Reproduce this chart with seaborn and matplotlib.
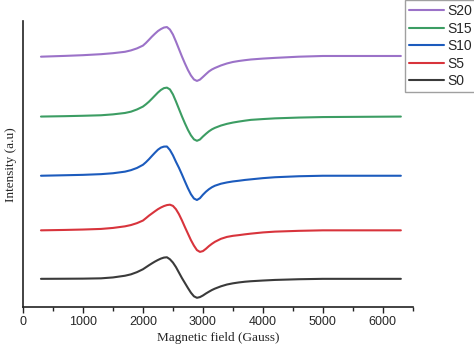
import numpy as np
import pandas as pd
import matplotlib
matplotlib.use("Agg")
import matplotlib.pyplot as plt
from matplotlib.ticker import MultipleLocator
import seaborn as sns

# magnetic field sample points (Gauss)
field = [300, 700, 1000, 1300, 1500, 1700, 1800, 1900, 2000, 2050,
         2100, 2150, 2200, 2250, 2300, 2350, 2400, 2450, 2500, 2550,
         2600, 2650, 2700, 2750, 2800, 2850, 2900, 2950, 3000, 3050,
         3100, 3150, 3200, 3300, 3400, 3500, 3600, 3700, 3800, 4000,
         4200, 4600, 5000, 6300]

# intensities (arbitrary units)
s20 = [251.3, 252.1, 252.8, 253.8, 254.8, 256.2, 257.6, 259.6, 262.4, 265.1,
       268.2, 271.4, 274.3, 277, 279, 280.5, 281, 278.5, 273.5, 266.5,
       259, 251.5, 244.5, 238, 232.5, 228.5, 227, 228.3, 231, 233.8,
       236.5, 238.5, 240, 242.5, 244.5, 246, 247, 247.8, 248.5, 249.4,
       250.1, 251.3, 252, 252]
s15 = [191.3, 191.7, 192.1, 192.6, 193.5, 194.9, 196.2, 198.4, 201.3, 203.6,
       206.2, 209.2, 212.3, 215.4, 218, 219.8, 220.3, 218.5, 213.5, 206.5,
       199, 191.5, 184.5, 178, 172.5, 168.5, 167, 168.3, 171.3, 174,
       176.5, 178.5, 180, 182.3, 184, 185.3, 186.3, 187.2, 188, 188.8,
       189.5, 190.3, 190.8, 191.3]
s10 = [132, 132.5, 132.9, 133.6, 134.5, 136.1, 137.6, 139.8, 143, 145.6,
       148.6, 151.9, 155.1, 158.1, 160.2, 161.2, 161.3, 157.8, 152.5, 146,
       140, 133.3, 126.3, 119.5, 113.5, 109.2, 107.7, 109.5, 113, 116,
       118.5, 120.5, 122, 124, 125.3, 126.3, 127, 127.8, 128.4, 129.6,
       130.5, 131.5, 132, 132]
s5 = [77.3, 77.7, 78.1, 78.7, 79.7, 81.3, 82.6, 84.5, 87.1, 89.5,
      92, 94.2, 96.4, 98.5, 100.2, 101.6, 102.6, 103, 101.8, 98.5,
      93.5, 87.3, 80.5, 74, 67.5, 62, 57.5, 55.7, 56.5, 58.8,
      61.5, 63.8, 65.8, 68.8, 70.7, 71.8, 72.5, 73.3, 74, 75.2,
      76, 76.8, 77.3, 77.3]
s0 = [28.7, 28.8, 28.9, 29.2, 30.1, 31.8, 33.2, 35.4, 38.3, 40.3,
      42.3, 44.2, 46, 47.6, 49, 50, 50.3, 48.3, 45, 40.5,
      35, 29.5, 24.5, 19.5, 14.8, 11.2, 9.7, 10.4, 12, 14,
      15.8, 17.5, 18.9, 21.2, 23, 24.2, 25.1, 25.8, 26.3, 27,
      27.6, 28.3, 28.7, 28.7]

samples = ["S20", "S15", "S10", "S5", "S0"]
colors = ["#9b72c8", "#3c9d63", "#1c5bbd", "#d8343c", "#3a3a3a"]

series = dict(zip(samples, [s20, s15, s10, s5, s0]))
df = pd.concat(
    [pd.DataFrame({"field": field, "intensity": v, "sample": k})
     for k, v in series.items()],
    ignore_index=True,
)

sns.set_style("ticks")
plt.rcParams["font.family"] = ["Liberation Sans", "DejaVu Sans"]

fig = plt.figure(figsize=(4.74, 3.51), dpi=100)
ax = fig.add_axes([0.0485, 0.124, 0.8225, 0.816])

sns.lineplot(data=df, x="field", y="intensity", hue="sample",
             hue_order=samples, palette=colors, linewidth=1.5,
             sort=False, ax=ax, legend=False)

ax.set_xlim(0, 6500)
ax.set_ylim(0, 287)
ax.xaxis.set_major_locator(MultipleLocator(1000))
ax.xaxis.set_minor_locator(MultipleLocator(500))
ax.set_yticks([])
ax.tick_params(axis="x", which="major", length=4, width=1, labelsize=9,
               color="#222222", pad=2)
ax.tick_params(axis="x", which="minor", length=3, width=1, color="#222222")
for side in ["top", "right"]:
    ax.spines[side].set_visible(False)
for side in ["left", "bottom"]:
    ax.spines[side].set_color("#222222")
    ax.spines[side].set_linewidth(1.2)

ax.set_xlabel("Magnetic field (Gauss)", family="Liberation Serif",
              fontsize=9.5, labelpad=3)
ax.set_ylabel("Intensity (a.u)", family="Liberation Serif", fontsize=9.5,
              labelpad=4)

handles = [plt.Line2D([], [], color=c, lw=1.5) for c in colors]
leg = fig.legend(handles, samples, loc="upper left",
                 bbox_to_anchor=(405 / 474, 1.0), fontsize=10,
                 frameon=True, fancybox=False, handlelength=2.5,
                 handletextpad=0.25, labelspacing=0.25, borderpad=0.3,
                 borderaxespad=0)
leg.get_frame().set_edgecolor("#888888")
leg.get_frame().set_linewidth(1.0)

fig.savefig("out.png", dpi=100)
